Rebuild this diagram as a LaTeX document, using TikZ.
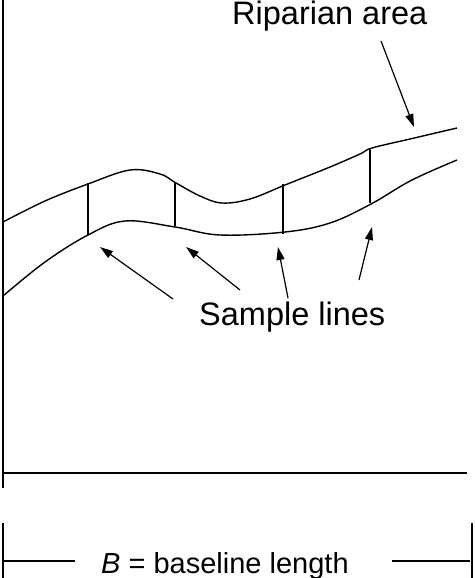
\documentclass[tikz,border=0pt]{standalone}
\usepackage{fontspec}
\setmainfont{Liberation Sans}
\usetikzlibrary{arrows.meta}
\begin{document}
\begin{tikzpicture}[x=1pt,y=-1pt,
  curve/.style={line width=1.4pt,line join=round},
  sline/.style={line width=1.1pt},
  axis/.style={line width=1.3pt},
  pointer/.style={line width=1.2pt,-{Triangle[length=13pt,width=8pt]}},
  label/.style={inner sep=0pt,anchor=base west,font=\fontsize{32.5}{35}\selectfont},
  blabel/.style={inner sep=0pt,anchor=base west,font=\fontsize{29}{32}\selectfont}]
\useasboundingbox (0,0) rectangle (474,578);
% frame lines
\draw[line width=2.2pt] (3,0) -- (3,488);
\draw[axis] (3,473) -- (467,473);
% bottom bracket
\draw[line width=2.2pt] (3,523) -- (3,578);
\draw[line width=2.2pt] (472,523) -- (472,578);
\draw[axis] (3,561) -- (75,561);
\draw[axis] (392,561) -- (470,561);
\node[blabel] (B) at (101,573) {\textit{B} = baseline length};
% riparian area curves
\draw[curve] plot[smooth,tension=0.6] coordinates {(3,222) (45,201) (88,184) (130,170) (160,174) (176,183) (200,196) (222,203) (250,199) (285,185) (330,167) (360,154) (372,148) (410,139) (457,128)};
\draw[curve] plot[smooth,tension=0.6] coordinates {(3,296) (45,262) (88,235) (125,221) (175,227) (220,235) (285,232) (330,223) (371,204) (412,180) (457,160)};
% sample lines
\coordinate (s1t) at (88,183); \coordinate (s1b) at (88,235);
\coordinate (s2t) at (175,182); \coordinate (s2b) at (175,226);
\coordinate (s3t) at (283,184); \coordinate (s3b) at (283,234);
\coordinate (s4t) at (370,149); \coordinate (s4b) at (370,203);
\draw[sline] (s1t) -- (s1b);
\draw[sline] (s2t) -- (s2b);
\draw[sline] (s3t) -- (s3b);
\draw[sline] (s4t) -- (s4b);
% labels
\node[label] (rip) at (232,25) {Riparian area};
\node[label] (samp) at (199,325) {Sample lines};
% arrows
\coordinate (r0) at (381,41); \coordinate (r1) at (414,127);
\draw[pointer] (r0) -- (r1);
\coordinate (a0) at (173,299); \coordinate (a1) at (100,247);
\coordinate (b0) at (240,290); \coordinate (b1) at (186,247);
\coordinate (c0) at (288,298); \coordinate (c1) at (278,247);
\coordinate (d0) at (359,280); \coordinate (d1) at (372,227);
\draw[pointer] (a0) -- (a1);
\draw[pointer] (b0) -- (b1);
\draw[pointer] (c0) -- (c1);
\draw[pointer] (d0) -- (d1);
\end{tikzpicture}
\end{document}
